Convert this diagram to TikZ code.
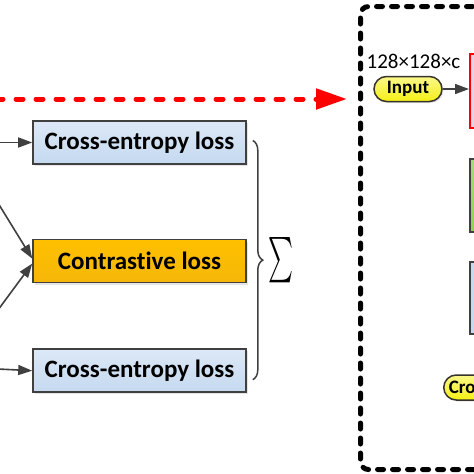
\documentclass[tikz,border=0pt]{standalone}
\usepackage{fontspec}
\setmainfont{Carlito}[Ligatures={NoCommon}]
\usepackage{amsmath}
\usetikzlibrary{shapes,arrows.meta,positioning,calc,shadows,decorations.pathreplacing}
\definecolor{ceblue}{RGB}{197,217,240}
\definecolor{ctorange}{RGB}{255,192,0}
\definecolor{linegray}{RGB}{64,64,64}
\definecolor{pillyellow}{RGB}{245,240,20}
\definecolor{convlav}{RGB}{220,215,238}
\definecolor{fcgreen}{RGB}{146,208,80}

\begin{document}
\begin{tikzpicture}[x=1pt, y=-1pt, node distance=74pt, >={Triangle[length=14pt,width=10pt]}]
  \tikzstyle{lossbox} = [rectangle, draw=linegray, line width=1.6pt, minimum width=213pt, minimum height=43pt, font=\fontsize{25}{28}\selectfont\bfseries, drop shadow={shadow xshift=2pt, shadow yshift=-2pt, fill=black!20}]
  \tikzstyle{celoss} = [lossbox, top color=ceblue!60!white, bottom color=ceblue]
  \tikzstyle{ctloss} = [lossbox, top color=ctorange, bottom color=ctorange!85!brown]
  \tikzstyle{pill} = [rectangle, rounded corners=12.5pt, draw=black!80!olive, line width=1.5pt, top color=pillyellow!50!white, bottom color=pillyellow, minimum height=25pt, font=\fontsize{19}{21}\selectfont\bfseries, drop shadow={shadow xshift=1.5pt, shadow yshift=-1.5pt, fill=black!20}]
  \tikzstyle{layer} = [rectangle, draw=linegray, line width=1.6pt, minimum width=40pt, anchor=north west]
  \tikzstyle{flow} = [->, draw=linegray, line width=1.6pt]
  \tikzstyle{frame} = [rectangle, draw=black, line width=5pt, dash pattern=on 6pt off 9pt, line cap=round, rounded corners=8pt, minimum width=300pt, minimum height=463pt, anchor=north west]

  \useasboundingbox (0,0) rectangle (474,474);
  \clip (0,0) rectangle (474,474);

  % loss terms
  \node[celoss] (ce1) at (139.5,142.5) {Cross-entropy loss};
  \node[ctloss] (ct) [below=74pt of ce1] {Contrastive loss};
  \node[celoss] (ce2) [below=65pt of ct] {Cross-entropy loss};

  \coordinate (in1) at (-2,142.5);
  \coordinate (inA) at (-2,203);
  \coordinate (inB) at (-2,310);
  \coordinate (in2) at (-2,369);
  \draw[flow] (in1) -- (ce1.west);
  \draw[flow] (inA) -- ([yshift=2.5pt]ct.west);
  \draw[flow] (inB) -- ([yshift=-2.5pt]ct.west);
  \draw[flow] (in2) -- (ce2.west);

  % sum of the losses
  \draw[decorate, decoration={brace, amplitude=10pt}, draw=linegray, line width=1.5pt]
    ($(ce1.east)+(6,-2)$) -- ($(ce2.east)+(6,9)$);
  \node[inner sep=0pt] (sum) at (281,260) {\resizebox{25pt}{34pt}{$\sum$}};

  % link to the network
  \coordinate (redstart) at (-4,99);
  \coordinate (redend) at (347,99);
  \draw[red, line width=5pt, dash pattern=on 7pt off 13pt, line cap=round, -{Triangle[length=31pt,width=20pt]}] (redstart) -- (redend);

  \node[frame] (net) at (358,4) {};

  % network input
  \node[pill, minimum width=68pt] (input) at (408,89) {Input};
  \node[font=\fontsize{21}{23}\selectfont] (dims) at (413.5,61) {128×128×c};
  \node[layer, draw=red, fill=convlav, minimum height=74pt] (conv) at (469,53) {};
  \draw[flow] (input.east) -- (input.east -| conv.west);
  \node[layer, top color=fcgreen!80!white, bottom color=fcgreen, minimum height=73pt] (fc) at (469,158) {};
  \node[layer, fill=ceblue, minimum height=72pt] (cls) at (469,261) {};
  \node[pill, anchor=west, text width=70pt, align=left, inner xsep=5pt] (out) at (443,387.5) {Cro};
\end{tikzpicture}
\end{document}
